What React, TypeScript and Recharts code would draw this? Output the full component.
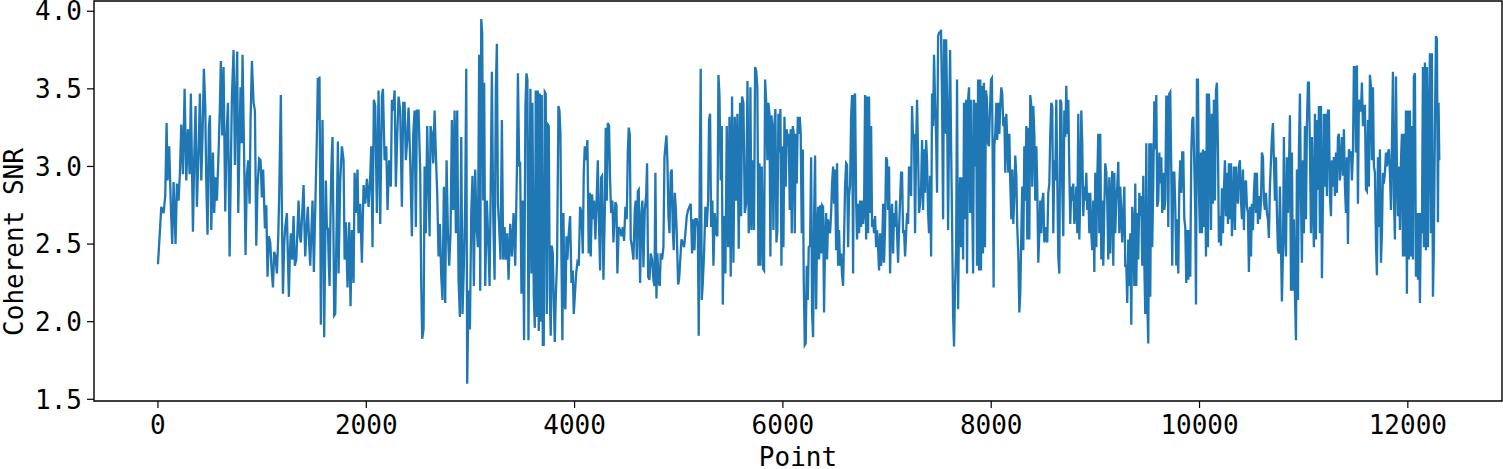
import { Label, Line, LineChart, ReferenceArea, XAxis, YAxis } from "recharts";

// [point index, coherent SNR], left to right
const snrPart1: [number, number][] = [
  [0, 2.37], [16, 2.55], [32, 2.74], [54, 2.7], [70, 2.81], [83, 3.28], [92, 2.91], [108, 3.13], [124, 2.74], [137, 2.5],
  [150, 2.9], [169, 2.5], [182, 2.89], [198, 2.78], [211, 2.96], [224, 3.27], [240, 2.95], [256, 3.5], [272, 2.91], [288, 3.24],
  [304, 2.95], [316, 3.47], [336, 2.58], [348, 3.05], [361, 3.39], [374, 2.74], [390, 3.1], [403, 3.47], [416, 2.91], [428, 3.2],
  [441, 3.63], [454, 3.39], [464, 2.9], [476, 2.56], [489, 3.25], [499, 3.33], [512, 2.59], [528, 3.09], [540, 2.7], [553, 2.93],
  [566, 2.78], [582, 3.09], [595, 3.4], [604, 3.68], [617, 3.2], [630, 3.64], [646, 2.71], [659, 3.2], [672, 3.41], [688, 2.42],
  [700, 3.0], [710, 3.45], [726, 3.75], [739, 3.01], [748, 3.4], [761, 3.74], [771, 2.7], [784, 3.2], [793, 3.51], [803, 3.15],
  [812, 3.72], [828, 3.04], [841, 2.43], [854, 2.95], [867, 3.04], [880, 2.76], [889, 3.3], [902, 3.68], [918, 3.41], [931, 3.36],
  [944, 2.49], [956, 2.87], [972, 3.05], [985, 3.04], [998, 2.8], [1010, 2.98], [1027, 2.6], [1040, 2.75], [1052, 2.29], [1065, 2.55],
  [1078, 2.51], [1090, 2.35], [1104, 2.22], [1116, 2.45], [1129, 2.42], [1142, 2.31], [1155, 2.55], [1164, 2.82], [1180, 3.46], [1190, 2.7],
  [1200, 2.18], [1212, 2.5], [1222, 2.61], [1238, 2.7], [1248, 2.4], [1257, 2.16], [1267, 2.45], [1276, 2.57], [1289, 2.4], [1302, 2.68],
  [1314, 2.36], [1328, 2.4], [1340, 2.6], [1350, 2.78], [1362, 2.55], [1372, 2.51], [1385, 2.7], [1398, 2.88], [1407, 2.6], [1414, 2.42],
  [1426, 2.6], [1439, 2.74], [1452, 2.5], [1462, 2.36], [1474, 2.6], [1484, 2.78], [1497, 2.32], [1506, 2.6], [1516, 2.9], [1526, 3.2],
  [1535, 3.57], [1545, 3.3], [1551, 3.58], [1558, 2.8], [1564, 1.98], [1571, 2.7], [1580, 3.3], [1590, 2.4], [1596, 1.9], [1606, 2.5],
  [1612, 2.91], [1622, 2.6], [1632, 2.6], [1641, 2.35], [1648, 2.23], [1657, 2.7], [1664, 2.96], [1670, 3.1], [1676, 3.19], [1686, 2.5],
  [1692, 2.04],
];

const snrPart2: [number, number][] = [
  [1702, 2.05], [1728, 3.16], [1734, 2.31], [1750, 2.91], [1766, 3.13], [1782, 3.04], [1792, 2.4], [1804, 2.64], [1820, 2.22], [1836, 2.64],
  [1849, 2.1], [1862, 2.59], [1878, 2.25], [1888, 2.96], [1900, 2.7], [1916, 2.98], [1926, 2.57], [1942, 2.76], [1958, 2.38], [1974, 2.88],
  [1990, 2.76], [2006, 2.92], [2022, 2.74], [2038, 2.94], [2048, 3.13], [2060, 2.48], [2073, 3.43], [2086, 3.39], [2102, 2.7], [2118, 3.49],
  [2134, 2.63], [2150, 3.45], [2160, 3.5], [2176, 3.04], [2192, 3.13], [2204, 2.72], [2220, 3.04], [2236, 2.87], [2246, 3.43], [2259, 3.36],
  [2272, 3.49], [2284, 2.87], [2297, 3.19], [2310, 3.45], [2326, 3.36], [2342, 2.74], [2355, 3.41], [2368, 3.41], [2380, 3.04], [2393, 3.17],
  [2406, 3.38], [2422, 3.04], [2438, 2.55], [2451, 3.21], [2464, 3.36], [2476, 2.61], [2486, 3.36], [2502, 3.36], [2518, 2.96], [2528, 2.23],
  [2537, 1.89], [2550, 1.95], [2560, 3.0], [2572, 2.57], [2585, 3.26], [2598, 2.87], [2608, 2.55], [2617, 3.26], [2630, 3.21], [2643, 3.02],
  [2656, 3.36], [2668, 3.08], [2681, 2.83], [2694, 2.42], [2707, 2.63], [2720, 2.29], [2732, 2.14], [2745, 2.87], [2758, 2.12], [2771, 3.04],
  [2784, 2.57], [2796, 2.36], [2809, 2.57], [2822, 3.3], [2835, 2.72], [2848, 3.36], [2860, 2.57], [2873, 3.36], [2886, 2.27], [2899, 2.03],
  [2912, 3.19], [2924, 2.05], [2937, 2.36], [2950, 2.78], [2960, 3.63], [2969, 1.6], [2982, 2.2], [2995, 1.95], [3008, 2.7], [3020, 2.94],
  [3033, 2.23], [3046, 2.98], [3059, 2.61], [3072, 2.48], [3084, 3.72], [3094, 2.2], [3104, 3.95], [3113, 3.86], [3123, 2.78], [3132, 3.54],
  [3142, 2.23], [3158, 2.78], [3171, 2.53], [3184, 2.23], [3193, 2.76], [3206, 3.61], [3219, 2.68], [3232, 2.27], [3244, 3.5], [3254, 3.79],
  [3264, 2.76], [3276, 2.61], [3289, 2.4], [3302, 3.3], [3315, 2.4], [3328, 2.61], [3340, 2.4], [3353, 2.57], [3366, 2.27], [3382, 2.63],
  [3398, 2.42], [3414, 2.7], [3430, 2.36], [3446, 2.96], [3456, 3.6], [3468, 3.0],
];

const snrPart3: [number, number][] = [
  [3477, 3.03], [3490, 2.18], [3503, 2.78], [3515, 1.88], [3528, 3.39], [3538, 3.6], [3547, 3.56], [3557, 1.88], [3567, 2.78], [3576, 3.5],
  [3586, 2.31], [3595, 3.41], [3608, 2.18], [3618, 1.96], [3627, 3.49], [3637, 2.03], [3647, 3.49], [3656, 1.94], [3666, 3.47], [3675, 2.0],
  [3685, 3.46], [3695, 1.85], [3704, 1.85], [3714, 3.48], [3723, 3.47], [3733, 2.05], [3743, 3.27], [3752, 3.26], [3762, 2.18], [3771, 1.91],
  [3781, 2.49], [3791, 2.44], [3800, 2.15], [3810, 1.87], [3819, 2.14], [3832, 2.4], [3845, 3.39], [3855, 3.36], [3864, 3.21], [3874, 2.4],
  [3883, 1.88], [3893, 2.7], [3903, 2.12], [3912, 2.08], [3922, 2.55], [3931, 2.4], [3944, 2.57], [3957, 2.68], [3970, 2.25], [3983, 2.33],
  [3992, 2.05], [4002, 2.16], [4015, 2.31], [4027, 2.38], [4040, 2.36], [4053, 2.74], [4066, 2.7], [4079, 2.44], [4088, 2.96], [4098, 3.13],
  [4111, 3.04], [4123, 3.17], [4136, 2.44], [4146, 2.83], [4155, 2.42], [4168, 2.82], [4178, 2.66], [4187, 2.78], [4200, 2.53], [4213, 2.81],
  [4223, 3.04], [4232, 2.7], [4245, 2.33], [4255, 2.93], [4264, 2.94], [4277, 2.27], [4290, 2.7], [4299, 3.25], [4309, 2.78], [4319, 3.28],
  [4331, 3.26], [4341, 2.91], [4351, 2.7], [4363, 2.78], [4373, 2.51], [4383, 2.66], [4392, 2.77], [4402, 2.75], [4411, 2.31], [4424, 2.61],
  [4437, 2.59], [4450, 2.55], [4463, 2.61], [4475, 2.52], [4488, 2.74], [4501, 2.66], [4511, 3.09], [4520, 3.25], [4530, 3.21], [4539, 2.53],
  [4552, 2.48], [4565, 2.4], [4578, 2.72], [4587, 2.78], [4597, 2.4], [4607, 2.84], [4616, 2.85], [4629, 2.25], [4642, 2.7], [4651, 2.78],
  [4661, 2.35], [4674, 2.72], [4687, 2.81], [4696, 3.02], [4706, 2.29], [4719, 2.27], [4731, 2.44], [4744, 2.4], [4757, 2.27], [4767, 2.23],
  [4776, 2.96], [4786, 2.15], [4795, 2.44], [4808, 2.25], [4818, 2.23], [4827, 2.44], [4840, 2.4], [4853, 2.48], [4863, 3.06], [4872, 3.13],
  [4882, 3.2], [4891, 3.04], [4901, 2.68], [4911, 2.57], [4923, 2.96], [4933, 2.98], [4943, 2.59], [4952, 2.46], [4962, 2.83], [4971, 2.74],
  [4981, 2.57], [4994, 2.24], [5003, 2.27], [5013, 2.38], [5026, 2.53], [5039, 2.51], [5051, 2.48], [5064, 2.57], [5077, 2.68], [5090, 2.72],
  [5103, 2.74], [5115, 2.76], [5128, 2.44], [5141, 2.66], [5151, 2.46], [5160, 2.66], [5173, 2.66], [5183, 2.61], [5192, 1.91], [5202, 2.98],
  [5211, 3.63], [5221, 2.14], [5231, 2.25], [5243, 2.44], [5256, 2.74], [5269, 2.61], [5282, 2.78], [5291, 3.3], [5301, 3.34], [5311, 2.61],
  [5323, 2.78], [5333, 2.36], [5346, 2.7], [5359, 2.57], [5371, 2.55], [5381, 3.59], [5391, 3.46], [5403, 2.91], [5413, 3.26], [5423, 2.11],
  [5435, 2.68], [5448, 2.31], [5461, 3.26], [5474, 2.48], [5487, 3.32], [5499, 2.29], [5512, 3.45], [5525, 2.38], [5538, 3.32], [5551, 2.78],
  [5563, 3.34], [5576, 2.47], [5589, 3.41], [5599, 2.68], [5608, 3.45], [5621, 3.41], [5634, 2.7], [5647, 2.76], [5660, 3.55], [5672, 2.57],
  [5682, 2.74],
];

const snrPart4: [number, number][] = [
  [5688, 3.51], [5698, 2.59], [5711, 3.04], [5723, 2.59], [5733, 3.64], [5743, 3.62], [5755, 3.51], [5765, 2.36], [5775, 3.02], [5784, 2.36],
  [5797, 3.0], [5810, 2.34], [5819, 2.33], [5829, 3.56], [5839, 3.43], [5851, 3.04], [5861, 3.41], [5871, 3.34], [5880, 2.42], [5890, 3.33],
  [5899, 3.24], [5909, 2.59], [5919, 3.28], [5928, 3.37], [5938, 2.51], [5947, 2.59], [5957, 3.34], [5967, 3.09], [5976, 3.37], [5986, 2.36],
  [5995, 3.13], [6005, 2.48], [6015, 3.32], [6027, 2.87], [6037, 3.24], [6047, 3.13], [6056, 3.21], [6066, 2.72], [6075, 3.24], [6085, 2.57],
  [6095, 3.26], [6104, 3.21], [6114, 2.57], [6123, 3.21], [6133, 2.89], [6143, 3.32], [6152, 3.21], [6162, 3.32], [6171, 3.21], [6181, 2.57],
  [6191, 3.11], [6200, 2.27], [6210, 1.85], [6219, 1.86], [6229, 2.36], [6239, 2.14], [6248, 2.48], [6261, 2.49], [6271, 3.06], [6280, 2.06],
  [6290, 1.9], [6299, 2.66], [6309, 3.07], [6319, 2.08], [6328, 2.57], [6338, 2.74], [6347, 2.4], [6357, 2.75], [6367, 2.44], [6376, 2.75],
  [6386, 2.74], [6395, 2.06], [6405, 2.53], [6415, 2.7], [6424, 2.4], [6434, 2.66], [6443, 2.59], [6453, 2.57], [6463, 2.7], [6472, 2.89],
  [6482, 3.0], [6491, 2.76], [6501, 2.98], [6511, 2.46], [6520, 3.02], [6530, 2.36], [6539, 2.59], [6549, 2.36], [6559, 2.44], [6568, 2.3],
  [6578, 2.23], [6587, 2.53], [6597, 2.87], [6607, 3.02], [6616, 3.01], [6626, 2.48], [6635, 2.81], [6645, 2.88], [6655, 3.32], [6664, 3.46],
  [6674, 2.31], [6683, 3.45], [6693, 3.47], [6703, 2.78], [6712, 2.53], [6722, 2.76], [6731, 2.57], [6741, 2.78], [6751, 2.61], [6760, 2.78],
  [6770, 2.63], [6779, 2.7], [6789, 3.46], [6799, 2.53], [6808, 3.45], [6818, 2.57], [6827, 3.45], [6837, 2.7], [6847, 3.26], [6856, 2.61],
  [6866, 2.66], [6875, 2.57], [6885, 2.68], [6895, 2.48], [6904, 2.59], [6914, 2.48], [6923, 2.33], [6933, 2.57], [6943, 2.36], [6952, 2.44],
  [6962, 2.76], [6971, 2.38], [6981, 2.61], [6991, 3.06], [7000, 3.04], [7010, 2.72], [7019, 3.0], [7029, 2.31], [7039, 2.66], [7048, 2.76],
  [7058, 2.44], [7067, 2.7], [7077, 2.61], [7087, 2.78], [7096, 2.57], [7106, 2.38], [7115, 2.59], [7125, 2.78], [7135, 2.96], [7144, 2.96],
  [7154, 2.57], [7163, 2.59], [7173, 2.42], [7183, 2.57], [7192, 2.7], [7202, 2.63], [7211, 3.0], [7221, 2.96], [7231, 2.81], [7240, 3.39],
  [7250, 3.17], [7259, 3.21], [7269, 2.57], [7279, 3.13], [7288, 3.43], [7298, 3.09], [7307, 2.7], [7317, 2.76], [7327, 2.87], [7336, 3.17],
  [7346, 2.72], [7355, 3.11], [7365, 2.83], [7375, 3.17], [7384, 3.04], [7394, 2.7], [7403, 2.57], [7413, 2.94], [7423, 2.42], [7432, 3.47],
  [7442, 3.26], [7451, 3.72], [7461, 3.41], [7471, 3.19], [7480, 2.83], [7490, 3.84], [7499, 3.86], [7509, 3.86], [7518, 3.88], [7528, 3.43],
  [7538, 2.66], [7547, 3.82], [7557, 3.21], [7567, 3.82], [7576, 3.45], [7586, 2.59], [7595, 3.21], [7605, 3.75], [7615, 3.13], [7624, 2.66],
  [7634, 2.05], [7643, 1.84], [7653, 2.23], [7663, 2.46], [7672, 3.56], [7682, 2.08], [7691, 2.66], [7701, 2.93], [7711, 2.48], [7720, 2.93],
  [7730, 2.4], [7739, 3.41], [7749, 2.66], [7759, 3.43], [7768, 2.31], [7778, 3.43], [7787, 3.51], [7797, 2.7], [7807, 3.43], [7816, 2.87],
  [7826, 2.31], [7835, 3.43], [7845, 3.0], [7855, 3.41], [7864, 2.36], [7874, 3.56], [7883, 2.33],
];

const snrPart5: [number, number][] = [
  [7895, 3.56], [7902, 2.33], [7911, 3.52], [7921, 2.44], [7930, 3.54], [7940, 2.48], [7950, 3.49], [7959, 3.43], [7969, 3.15], [7978, 3.13],
  [7988, 3.36], [7998, 3.56], [8007, 3.57], [8017, 2.85], [8023, 2.22], [8030, 3.13], [8039, 3.21], [8049, 3.41], [8058, 3.17], [8068, 3.41],
  [8078, 3.21], [8087, 3.39], [8097, 3.51], [8106, 3.47], [8116, 3.26], [8126, 3.32], [8135, 2.96], [8145, 3.34], [8154, 3.17], [8164, 2.96],
  [8174, 3.21], [8183, 2.89], [8193, 2.66], [8202, 2.98], [8212, 2.63], [8222, 2.81], [8231, 3.07], [8241, 2.94], [8250, 2.61], [8260, 2.44],
  [8270, 2.06], [8279, 2.18], [8289, 2.57], [8298, 2.87], [8308, 2.46], [8318, 3.13], [8327, 2.78], [8337, 3.26], [8346, 2.53], [8356, 3.25],
  [8366, 2.53], [8375, 3.46], [8385, 3.39], [8394, 2.87], [8404, 3.39], [8414, 3.21], [8423, 2.78], [8433, 3.13], [8442, 2.87], [8452, 2.38],
  [8462, 2.57], [8471, 2.78], [8481, 2.57], [8490, 2.78], [8500, 2.83], [8510, 2.51], [8519, 2.61], [8529, 2.53], [8538, 2.51], [8548, 2.83],
  [8558, 2.89], [8567, 3.21], [8577, 3.41], [8586, 3.39], [8596, 2.57], [8606, 3.04], [8615, 2.91], [8625, 3.43], [8634, 2.93], [8644, 2.42],
  [8654, 2.31], [8663, 3.43], [8673, 3.41], [8682, 2.87], [8692, 2.55], [8702, 3.36], [8711, 3.19], [8721, 3.52], [8730, 3.21], [8740, 3.43],
  [8750, 2.96], [8759, 2.63], [8769, 2.87], [8778, 2.78], [8788, 2.89], [8798, 2.63], [8807, 2.7], [8817, 2.87], [8826, 2.57], [8836, 3.34],
  [8846, 2.53], [8855, 2.81], [8865, 3.36], [8874, 3.15], [8884, 2.68], [8894, 2.87], [8903, 2.78], [8913, 2.96], [8922, 2.72], [8932, 2.83],
  [8942, 2.57], [8951, 2.83], [8961, 2.57], [8970, 2.46], [8980, 2.78], [8990, 2.32], [8999, 2.96], [9009, 2.48], [9018, 2.91], [9028, 3.21],
  [9038, 2.57], [9047, 3.21], [9057, 2.4], [9066, 2.78], [9076, 2.36], [9086, 2.74], [9095, 3.02], [9105, 2.96], [9114, 2.78], [9124, 2.4],
  [9134, 2.93], [9143, 2.44], [9153, 2.78], [9162, 2.97], [9172, 2.36], [9182, 2.96], [9191, 2.57], [9201, 2.78], [9210, 2.87], [9220, 3.03],
  [9230, 2.57], [9239, 2.87], [9249, 2.7], [9258, 2.51], [9268, 2.7], [9278, 2.87], [9287, 2.36], [9297, 2.36], [9306, 2.12], [9316, 2.53],
  [9326, 2.23], [9335, 2.57], [9345, 1.98], [9354, 2.74], [9364, 2.61], [9374, 2.23], [9383, 2.89], [9393, 2.23], [9402, 2.7], [9412, 2.4],
  [9422, 2.83], [9431, 2.68], [9441, 2.81], [9450, 2.36], [9460, 2.94], [9470, 2.38], [9479, 2.05], [9489, 3.15], [9498, 2.14], [9508, 1.86],
  [9518, 3.15], [9527, 2.16], [9537, 3.15], [9546, 2.48], [9556, 2.89], [9566, 3.42], [9575, 3.11], [9585, 3.46], [9594, 2.74], [9604, 2.78],
  [9614, 3.09], [9623, 2.89], [9633, 3.06], [9642, 2.7], [9652, 2.96], [9662, 2.72], [9671, 2.78], [9681, 3.45], [9690, 3.45], [9700, 2.61],
  [9710, 3.47], [9719, 3.48], [9729, 2.96], [9738, 2.36], [9748, 2.96], [9758, 2.96], [9767, 2.74], [9777, 2.36], [9786, 2.66], [9796, 2.31],
  [9806, 2.87], [9815, 3.04], [9825, 2.83], [9834, 3.09], [9844, 3.09], [9854, 2.66], [9863, 2.61], [9873, 2.25], [9882, 2.59], [9892, 2.27],
  [9902, 2.59], [9911, 2.29], [9921, 3.09], [9930, 3.3], [9940, 3.32], [9950, 3.0], [9959, 2.7], [9966, 2.11], [9975, 3.56], [9985, 3.56],
  [9994, 2.85], [10004, 2.57], [10014, 3.09], [10023, 2.57], [10033, 3.11], [10042, 2.61], [10052, 3.1], [10062, 2.42], [10071, 3.47], [10081, 2.48],
  [10090, 3.47],
];

const snrPart6: [number, number][] = [
  [10100, 3.21], [10110, 2.59], [10119, 3.34], [10129, 2.76], [10138, 3.43], [10148, 2.78], [10158, 3.49], [10167, 3.54], [10177, 3.11], [10186, 2.51],
  [10196, 2.68], [10206, 2.49], [10215, 2.86], [10225, 2.57], [10234, 2.85], [10244, 3.04], [10254, 2.68], [10263, 2.96], [10273, 2.63], [10282, 3.02],
  [10292, 2.66], [10302, 3.02], [10311, 2.55], [10321, 2.74], [10330, 3.0], [10340, 2.59], [10350, 3.0], [10359, 2.83], [10369, 2.76], [10378, 3.0],
  [10388, 3.04], [10398, 2.78], [10407, 2.66], [10417, 2.98], [10426, 2.59], [10436, 2.89], [10446, 2.91], [10455, 2.74], [10465, 2.7], [10474, 2.32],
  [10484, 2.74], [10494, 2.42], [10503, 2.76], [10513, 2.59], [10522, 2.83], [10532, 2.96], [10542, 2.7], [10551, 2.96], [10561, 2.63], [10570, 2.81],
  [10580, 2.66], [10590, 2.78], [10599, 3.09], [10609, 3.06], [10618, 2.78], [10628, 2.72], [10638, 2.83], [10647, 2.7], [10657, 2.66], [10666, 2.54],
  [10676, 2.87], [10686, 3.04], [10695, 3.19], [10705, 3.28], [10714, 3.04], [10724, 2.78], [10734, 3.06], [10743, 2.7], [10753, 2.46], [10762, 2.44],
  [10772, 2.87], [10782, 2.48], [10791, 2.13], [10801, 2.44], [10810, 3.19], [10820, 2.57], [10830, 2.42], [10839, 3.06], [10849, 2.7], [10858, 2.96],
  [10868, 3.33], [10878, 2.2], [10887, 3.09], [10897, 2.2], [10906, 2.66], [10916, 2.18], [10926, 1.88], [10935, 2.98], [10945, 2.14], [10954, 3.09],
  [10964, 3.47], [10974, 2.78], [10983, 2.38], [10993, 3.04], [11002, 2.57], [11012, 3.26], [11022, 2.66], [11031, 3.27], [11041, 3.54], [11050, 3.54],
  [11060, 3.11], [11070, 2.57], [11079, 3.19], [11089, 2.78], [11098, 2.48], [11108, 3.34], [11118, 2.53], [11127, 3.3], [11137, 2.85], [11146, 3.39],
  [11156, 2.57], [11166, 3.39], [11175, 2.28], [11185, 2.78], [11194, 3.34], [11204, 2.87], [11214, 3.34], [11223, 2.81], [11233, 3.36], [11242, 3.36],
  [11252, 2.81], [11262, 2.68], [11271, 3.04], [11281, 2.87], [11290, 3.06], [11300, 2.81], [11310, 3.09], [11319, 2.83], [11329, 3.19], [11338, 3.21],
  [11348, 2.91], [11358, 3.04], [11367, 3.19], [11377, 2.94], [11386, 3.24], [11396, 2.87], [11406, 2.7], [11415, 3.06], [11425, 2.5], [11434, 3.11],
  [11444, 3.09], [11454, 3.09], [11463, 2.91], [11473, 3.09], [11482, 3.64], [11492, 3.64], [11502, 3.09], [11511, 3.65], [11521, 2.76], [11530, 3.43],
  [11540, 3.36], [11550, 3.36], [11559, 3.54], [11569, 3.26], [11578, 3.39], [11588, 3.39], [11598, 2.85], [11607, 2.84], [11617, 3.3], [11626, 2.87],
  [11636, 3.59], [11646, 3.51], [11655, 3.04], [11665, 3.51], [11674, 3.0], [11684, 2.96], [11694, 2.51], [11703, 2.3], [11713, 3.06], [11722, 2.61],
  [11732, 3.11], [11742, 2.38], [11751, 2.57], [11761, 2.96], [11770, 2.89], [11780, 2.96], [11790, 3.09], [11799, 3.0], [11809, 3.09], [11818, 3.11],
  [11828, 2.96], [11838, 2.72], [11847, 3.13], [11857, 3.61], [11866, 2.81], [11876, 2.53], [11886, 3.58], [11895, 3.0], [11905, 2.68], [11914, 3.0],
  [11924, 2.59], [11934, 3.04], [11943, 3.21], [11953, 2.42], [11962, 3.21], [11972, 2.42], [11982, 3.36], [11991, 2.18], [12001, 3.36], [12010, 2.4],
  [12020, 3.36], [12030, 2.42], [12039, 3.26], [12049, 2.4], [12058, 3.58], [12068, 3.6], [12078, 2.29], [12087, 2.7], [12097, 2.27], [12106, 2.7],
  [12116, 2.12], [12126, 2.7], [12135, 2.57], [12145, 3.64], [12154, 2.48], [12164, 3.67], [12174, 2.46], [12183, 3.64], [12193, 2.48], [12202, 3.26],
  [12212, 3.73], [12222, 2.57], [12231, 3.73], [12241, 2.16], [12250, 2.48], [12260, 3.26], [12270, 3.84], [12279, 3.82], [12289, 2.64], [12295, 3.41],
  [12302, 3.04],
];

const xTicks = [0, 2000, 4000, 6000, 8000, 10000, 12000];
const yTicks = [1.5, 2.0, 2.5, 3.0, 3.5, 4.0];
const xDomain: [number, number] = [-614, 12904];
const yDomain: [number, number] = [1.489, 4.066];

const chartData = [...snrPart1, ...snrPart2, ...snrPart3, ...snrPart4, ...snrPart5, ...snrPart6].map(
  ([point, snr]) => ({ point, snr })
);

const fontFamily = "'DejaVu Sans Mono', monospace";
const tickStyle = { fill: "#000", fontSize: 26, fontFamily };

function AxisTitle({ x, y, angle, text }: { x: number; y: number; angle?: number; text: string }) {
  return (
    <text
      x={x}
      y={y}
      textAnchor="middle"
      fill="#000"
      fontSize={26}
      fontFamily={fontFamily}
      transform={angle ? `rotate(${angle} ${x} ${y})` : undefined}
    >
      {text}
    </text>
  );
}

export default function App() {
  return (
    <div style={{ position: "absolute", left: 0, top: 0, background: "#fff" }}>
      <LineChart width={1503} height={469} data={chartData} margin={{ top: 1, right: 1, bottom: 0, left: 0 }}>
        <XAxis
          dataKey="point"
          type="number"
          domain={xDomain}
          ticks={xTicks}
          allowDataOverflow
          axisLine={false}
          tickLine={{ stroke: "#000", strokeWidth: 1.2 }}
          tickSize={7}
          tickMargin={8}
          height={68}
          tick={tickStyle}
          interval={0}
        >
          <Label content={() => <AxisTitle x={798} y={466} text="Point" />} />
        </XAxis>
        <YAxis
          type="number"
          domain={yDomain}
          ticks={yTicks}
          allowDataOverflow
          axisLine={false}
          tickLine={{ stroke: "#000", strokeWidth: 1.2 }}
          tickSize={7}
          tickMargin={5}
          width={94}
          tick={tickStyle}
          interval={0}
          tickFormatter={(v: number) => v.toFixed(1)}
        >
          <Label content={() => <AxisTitle x={23} y={242} angle={-90} text="Coherent SNR" />} />
        </YAxis>
        <Line
          dataKey="snr"
          type="linear"
          stroke="#1f77b4"
          strokeWidth={2.3}
          dot={false}
          activeDot={false}
          isAnimationActive={false}
        />
        <ReferenceArea
          x1={xDomain[0]}
          x2={xDomain[1]}
          y1={yDomain[0]}
          y2={yDomain[1]}
          fill="none"
          stroke="#000"
          strokeWidth={1.4}
          ifOverflow="visible"
        />
      </LineChart>
    </div>
  );
}
